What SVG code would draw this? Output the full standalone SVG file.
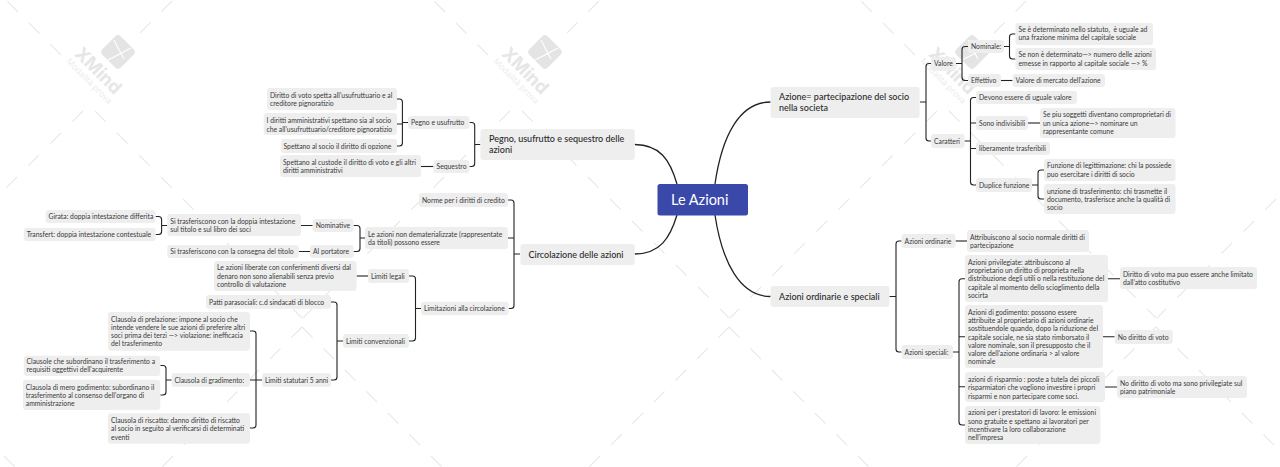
<svg xmlns="http://www.w3.org/2000/svg" xmlns:xlink="http://www.w3.org/1999/xlink" width="1280" height="467" viewBox="0 0 1280 467">
<style>
text{font-family:"Lato","Noto Sans",sans-serif;fill:#3a3a3a}
.n rect{fill:#eeeeee}
.n text{font-size:6.8px}
.m text{font-size:9px;font-weight:500;fill:#2a2a2a}
.m rect{fill:#eeeeee}
.c path{fill:none;stroke:#222;stroke-width:1.1}
.c path.k{stroke-width:1.3}
.w{fill:none;stroke:#e8e8e8;stroke-width:1.2}
.d{stroke-dasharray:15 15.4}
.e{stroke-dasharray:15 16.1}
</style>
<defs>
<g id="wa">
<path class="w e" d="M6,111L213,318"/>
<path class="w e" d="M-6,111L-213,318"/>
<path class="w d" d="M-28,55L-200,-117"/>
<path class="w d" d="M51,33L200,-116"/>
</g>
<g id="wb">
<path class="w d" d="M0,327L213,540"/>
<path class="w d" d="M0,327L-213,540"/>
</g>
<g id="wl">
<rect x="-13" y="-13" width="26" height="26" rx="4" transform="rotate(45)" fill="#e4e4e4"/>
<path d="M-4,-12Q0,-4 6,7M13,-4Q2,2 -10,8" fill="none" stroke="#fff" stroke-width="1.1"/>
<text transform="translate(-24,23) rotate(45)" text-anchor="middle" style="font-family:Inter,sans-serif;font-size:18px;font-weight:700;fill:#e6e6e6">XMind</text>
<text transform="translate(-31,31) rotate(45)" text-anchor="middle" style="font-family:'Open Sans',sans-serif;font-size:8.600px;fill:#ebebeb">Modalità prova</text>
</g>
</defs>
<rect width="1280" height="467" fill="#fff"/>
<g id="watermark">
<use xlink:href="#wa" x="89"/><use xlink:href="#wa" x="516"/><use xlink:href="#wa" x="943"/><use xlink:href="#wa" x="1370"/>
<use xlink:href="#wb" x="-125"/><use xlink:href="#wb" x="302"/><use xlink:href="#wb" x="729"/><use xlink:href="#wb" x="1156"/>
<use xlink:href="#wl" x="118" y="52"/><use xlink:href="#wl" x="545" y="52"/><use xlink:href="#wl" x="972" y="52"/>
</g>
<g id="connectors" class="c">
<path class="k" d="M715,184C722,135 740,102 770.6,102"/>
<path class="k" d="M715,215C722,262 740,296.5 770.6,296.5"/>
<path class="k" d="M677,184C670,160 660,144.5 634.7,144.5"/>
<path class="k" d="M677,215C670,238 660,254 634.7,254"/>
<path d="M920,102H926M931,63.5H929Q926,63.5 926,66.5V138Q926,141 929,141H931"/>
<path d="M956,63.5H962M968,46.5H965Q962,46.5 962,49.5V77.5Q962,80.5 965,80.5H968"/>
<path d="M1004,46.5H1009.5M1015.5,34H1012.5Q1009.5,34 1009.5,37V56Q1009.5,59 1012.5,59H1015.5"/>
<path d="M1001,80.5H1012.6"/>
<path d="M964.5,141H970.5M976,97.5H973.5Q970.5,97.5 970.5,100.5V182Q970.5,185 973.5,185H976M970.5,123H976M970.5,148.5H976"/>
<path d="M1028,123H1040"/>
<path d="M1032,185H1038M1044,170H1041Q1038,170 1038,173V196Q1038,199 1041,199H1044"/>
<path d="M889.4,296.5H896M901.6,241H899Q896,241 896,244V349Q896,352 899,352H901.6"/>
<path d="M955.5,241H967"/>
<path d="M953,352H959M965,278.7H962Q959,278.7 959,281.7V422Q959,425 962,425H965M959,336.7H965M959,386.7H965"/>
<path d="M1108,278.7H1120M1103,336.7H1114.7M1105,387H1117"/>
<path d="M480.4,144.5H474.7M469.4,122.5H471.7Q474.7,122.5 474.7,125.5V163.5Q474.7,166.5 471.7,166.5H469.4"/>
<path d="M408,122.5H402.4M397,99H399.4Q402.4,99 402.4,102V143Q402.4,146 399.4,146H397M402.4,124H397"/>
<path d="M421,166.5H433.5"/>
<path d="M520,254H514M508,200H511Q514,200 514,203V305.5Q514,308.5 511,308.5H508.6M514,238H508"/>
<path d="M365,238H360M353.5,225.5H357Q360,225.5 360,228.5V248.5Q360,251.5 357,251.5H353.5"/>
<path d="M301,225.5H312.7M298.8,251.5H310"/>
<path d="M167.3,225.5H161.6M155.5,216.5H158.6Q161.6,216.5 161.6,219.5V231.5Q161.6,234.5 158.6,234.5H155.5"/>
<path d="M421,308.5H415.5M409,276H412.5Q415.5,276 415.5,279V338Q415.5,341 412.5,341H409"/>
<path d="M356.5,276H368"/>
<path d="M343,341H337M331,302H334Q337,302 337,305V377Q337,380 334,380H331"/>
<path d="M262,380H256M250,331H253Q256,331 256,334V425Q256,428 253,428H250M256,380H250"/>
<path d="M171.7,380H166M160.3,365.5H163Q166,365.5 166,368.5V392Q166,395 163,395H160.3"/>
</g>
<g id="central"><rect x="657.5" y="184" width="90.5" height="31.5" rx="2.5" fill="#3a48a9"/><text x="671" y="204.500" style="font-size:14.500px;fill:#fff">Le Azioni</text></g>
<g id="t-azione" class="m"><rect x="770.6" y="87" width="149" height="31" rx="3"/><text x="779" y="100">Azione= partecipazione del socio</text><text x="779" y="111">nella societa</text></g>
<g id="n-valore" class="n"><rect x="931" y="57" width="25" height="14" rx="3"/><text x="934" y="66">Valore</text></g>
<g id="n-nominale" class="n"><rect x="968" y="40" width="36" height="13" rx="3"/><text x="971" y="49">Nominale:</text></g>
<g id="n-statuto" class="n"><rect x="1015.5" y="23" width="137.5" height="22" rx="3"/><text x="1018.5" y="31.5" xml:space="preserve">Se è determinato nello statuto,  è uguale ad</text><text x="1018.5" y="40">una frazione minima del capitale sociale</text></g>
<g id="n-nondet" class="n"><rect x="1015.5" y="48" width="140.5" height="22" rx="3"/><text x="1018.5" y="57">Se non è determinato—&gt; numero delle azioni</text><text x="1018.5" y="66">emesse in rapporto al capitale sociale —&gt; %</text></g>
<g id="n-effettivo" class="n"><rect x="968" y="74" width="33" height="13" rx="3"/><text x="971" y="83">Effettivo</text></g>
<g id="n-mercato" class="n"><rect x="1012.6" y="74" width="92.4" height="13" rx="3"/><text x="1015.6" y="83">Valore di mercato dell'azione</text></g>
<g id="n-caratteri" class="n"><rect x="931" y="134" width="33.5" height="14" rx="3"/><text x="934" y="143.5">Caratteri</text></g>
<g id="n-devono" class="n"><rect x="976" y="91" width="101" height="13" rx="3"/><text x="979" y="100">Devono essere di uguale valore</text></g>
<g id="n-indivisibili" class="n"><rect x="976" y="116" width="52" height="14" rx="3"/><text x="979" y="125.5">Sono indivisibili</text></g>
<g id="n-soggetti" class="n"><rect x="1040" y="108" width="135.5" height="30" rx="3"/><text x="1043" y="117">Se piu soggetti diventano comproprietari di</text><text x="1043" y="125.5">un unica azione—&gt; nominare un</text><text x="1043" y="133.5">rappresentante comune</text></g>
<g id="n-liberamente" class="n"><rect x="976" y="142" width="74" height="13" rx="3"/><text x="979" y="151">liberamente trasferibili</text></g>
<g id="n-duplice" class="n"><rect x="976" y="178" width="56" height="14" rx="3"/><text x="979" y="187.5">Duplice funzione</text></g>
<g id="n-legittimazione" class="n"><rect x="1044" y="159" width="131.5" height="22" rx="3"/><text x="1047" y="168">Funzione di legittimazione: chi la possiede</text><text x="1047" y="176.5">puo esercitare i diritti di socio</text></g>
<g id="n-trasferimento" class="n"><rect x="1044" y="184" width="131.5" height="30" rx="3"/><text x="1047" y="193.5">unzione di trasferimento: chi trasmette il</text><text x="1047" y="202">documento, trasferisce anche la qualità di</text><text x="1047" y="210">socio</text></g>
<g id="t-ordinarie" class="m"><rect x="770.6" y="286" width="118.8" height="21" rx="3"/><text x="779" y="300">Azioni ordinarie e speciali</text></g>
<g id="n-ordinarie" class="n"><rect x="901.6" y="234" width="53.9" height="14" rx="3"/><text x="904.6" y="243.5">Azioni ordinarie</text></g>
<g id="n-attribuiscono" class="n"><rect x="967" y="230" width="122" height="22" rx="3"/><text x="970" y="239.5">Attribuiscono al socio normale diritti di</text><text x="970" y="248">partecipazione</text></g>
<g id="n-speciali" class="n"><rect x="901.6" y="345" width="51.4" height="14" rx="3"/><text x="904.6" y="354.5">Azioni speciali:</text></g>
<g id="n-privilegiate" class="n"><rect x="965" y="255" width="143" height="47" rx="3"/><text x="968" y="264.5">Azioni privilegiate: attribuiscono al</text><text x="968" y="272.8">proprietario un diritto di proprieta nella</text><text x="968" y="281.2">distribuzione degli utili o nella restituzione del</text><text x="968" y="289.5">capitale al momento dello scioglimento della</text><text x="968" y="297.8">socirta</text></g>
<g id="n-limitato" class="n"><rect x="1120" y="267" width="137" height="22" rx="3"/><text x="1123" y="276.5">Diritto di voto ma puo essere anche limitato</text><text x="1123" y="285">dall'atto costitutivo</text></g>
<g id="n-godimento" class="n"><rect x="965" y="305" width="138" height="63" rx="3"/><text x="968" y="314.8">Azioni di godimento: possono essere</text><text x="968" y="323">attribuite al proprietario di azioni ordinarie</text><text x="968" y="331.3">sostituendole quando, dopo la riduzione del</text><text x="968" y="339.5">capitale sociale, ne sia stato rimborsato il</text><text x="968" y="347.8">valore nominale, son il presupposto che il</text><text x="968" y="356">valore dell'azione ordinaria &gt; al valore</text><text x="968" y="364.2">nominale</text></g>
<g id="n-novoto" class="n"><rect x="1114.7" y="330" width="58" height="14" rx="3"/><text x="1117.7" y="339.5">No diritto di voto</text></g>
<g id="n-risparmio" class="n"><rect x="965" y="372" width="140" height="30" rx="3"/><text x="968" y="381.5">azioni di risparmio : poste a tutela dei piccoli</text><text x="968" y="390">risparmiatori che vogliono investire i propri</text><text x="968" y="398.5">risparmi e non partecipare come soci.</text></g>
<g id="n-patrimoniale" class="n"><rect x="1117" y="376" width="130" height="22" rx="3"/><text x="1120" y="385.5">No diritto di voto ma sono privilegiate sul</text><text x="1120" y="394">piano patrimoniale</text></g>
<g id="n-prestatori" class="n"><rect x="965" y="406" width="135.4" height="38" rx="3"/><text x="968" y="415.2">azioni per i prestatori di lavoro: le emissioni</text><text x="968" y="423.5">sono gratuite e spettano ai lavoratori per</text><text x="968" y="431.5">incentivare la loro collaborazione</text><text x="968" y="439.8">nell'impresa</text></g>
<g id="t-pegno" class="m"><rect x="480.4" y="129" width="154.3" height="31" rx="3"/><text x="489" y="142">Pegno, usufrutto e sequestro delle</text><text x="489" y="153">azioni</text></g>
<g id="n-pegno" class="n"><rect x="408" y="116" width="61.4" height="13" rx="3"/><text x="411" y="125">Pegno e usufrutto</text></g>
<g id="n-spetta" class="n"><rect x="267" y="88" width="130" height="22" rx="3"/><text x="270" y="97.5">Diritto di voto spetta all'usufruttuario e al</text><text x="270" y="106">creditore pignoratizio</text></g>
<g id="n-amministrativi" class="n"><rect x="263.7" y="113" width="133.3" height="22" rx="3"/><text x="266.5" y="123">I diritti amministrativi spettano sia al socio</text><text x="266.5" y="131.5">che all'usufruttuario/creditore pignoratizio</text></g>
<g id="n-opzione" class="n"><rect x="281" y="139" width="116" height="14" rx="3"/><text x="283.5" y="148.5">Spettano al socio il diritto di opzione</text></g>
<g id="n-custode" class="n"><rect x="280" y="155" width="141" height="22" rx="3"/><text x="283" y="165">Spettano al custode il diritto di voto e gli altri</text><text x="283" y="173">diritti amministrativi</text></g>
<g id="n-sequestro" class="n"><rect x="433.5" y="160" width="35.9" height="13" rx="3"/><text x="436.5" y="169">Sequestro</text></g>
<g id="t-circolazione" class="m"><rect x="520.4" y="244" width="114.3" height="21" rx="3"/><text x="528.5" y="258">Circolazione delle azioni</text></g>
<g id="n-norme" class="n"><rect x="419" y="193" width="89" height="14" rx="3"/><text x="422" y="202.5">Norme per i diritti di credito</text></g>
<g id="n-dematerializzate" class="n"><rect x="365" y="227" width="143" height="22" rx="3"/><text x="368" y="236.5">Le azioni non dematerializzate (rappresentate</text><text x="368" y="245">da titoli) possono essere</text></g>
<g id="n-nominative" class="n"><rect x="312.7" y="219" width="40.8" height="13" rx="3"/><text x="315.7" y="228">Nominative</text></g>
<g id="n-doppia" class="n"><rect x="167.3" y="214" width="133.7" height="22" rx="3"/><text x="170.3" y="223.5">Si trasferiscono con la doppia intestazione</text><text x="170.3" y="232">sul titolo e sul libro dei soci</text></g>
<g id="n-girata" class="n"><rect x="45.7" y="210" width="109.8" height="13" rx="3"/><text x="48.5" y="219">Girata: doppia intestazione differita</text></g>
<g id="n-transfert" class="n"><rect x="23.7" y="228" width="131.8" height="13" rx="3"/><text x="26.7" y="237">Transfert: doppia intestazione contestuale</text></g>
<g id="n-portatore" class="n"><rect x="310" y="245" width="43.5" height="13" rx="3"/><text x="313" y="254">Al portatore</text></g>
<g id="n-consegna" class="n"><rect x="167.3" y="245" width="131.5" height="13" rx="3"/><text x="170.3" y="254">Si trasferiscono con la consegna del titolo</text></g>
<g id="n-limitazioni" class="n"><rect x="421" y="301.7" width="87.6" height="13.6" rx="3"/><text x="424" y="311">Limitazioni alla circolazione</text></g>
<g id="n-legali" class="n"><rect x="368" y="269" width="41" height="14" rx="3"/><text x="371" y="278.5">Limiti legali</text></g>
<g id="n-liberate" class="n"><rect x="214" y="261" width="142.5" height="30" rx="3"/><text x="217" y="270.2">Le azioni liberate con conferimenti diversi dal</text><text x="217" y="278.5">denaro non sono alienabili senza previo</text><text x="217" y="286.8">controllo di valutazione</text></g>
<g id="n-convenzionali" class="n"><rect x="343" y="334" width="66" height="13.7" rx="3"/><text x="346" y="343.5">Limiti convenzionali</text></g>
<g id="n-patti" class="n"><rect x="206" y="295" width="125" height="13.7" rx="3"/><text x="209" y="304.5">Patti parasociali: c.d sindacati di blocco</text></g>
<g id="n-statutari" class="n"><rect x="262" y="373" width="69" height="14" rx="3"/><text x="265" y="382.5">Limiti statutari 5 anni</text></g>
<g id="n-prelazione" class="n"><rect x="108" y="312" width="142" height="38.7" rx="3"/><text x="111" y="321.5">Clausola di prelazione: impone al socio che</text><text x="111" y="329.8">intende vendere le sue azioni di preferire altri</text><text x="111" y="338.2">soci prima dei terzi —&gt; violazione: inefficacia</text><text x="111" y="346.2">del trasferimento</text></g>
<g id="n-gradimento" class="n"><rect x="171.7" y="373" width="78.3" height="14" rx="3"/><text x="174.5" y="382.5">Clausola di gradimento:</text></g>
<g id="n-oggettivi" class="n"><rect x="23.8" y="355.7" width="136.5" height="20.3" rx="3"/><text x="26.5" y="363.5">Clausole che subordinano il trasferimento a</text><text x="26.5" y="371.8">requisiti oggettivi dell'acquirente</text></g>
<g id="n-mero" class="n"><rect x="23" y="379.7" width="137.3" height="30.3" rx="3"/><text x="25.8" y="389.5">Clausola di mero godimento: subordinano il</text><text x="25.8" y="397.5">trasferimento al consenso dell'organo di</text><text x="25.8" y="405.5">amministrazione</text></g>
<g id="n-riscatto" class="n"><rect x="108" y="413.3" width="142" height="30.4" rx="3"/><text x="111" y="422.8">Clausola di riscatto: danno diritto di riscatto</text><text x="111" y="431.2">al socio in seguito al verificarsi di determinati</text><text x="111" y="439.5">eventi</text></g>
</svg>
